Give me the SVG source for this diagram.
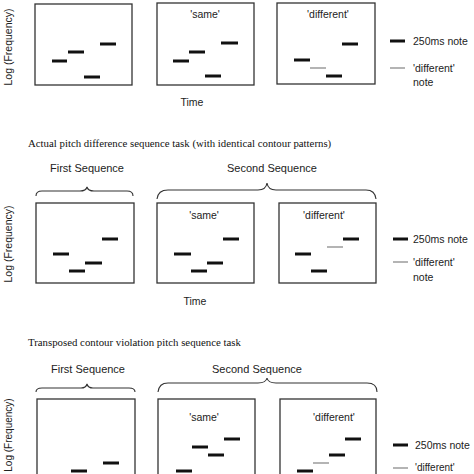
<svg xmlns="http://www.w3.org/2000/svg" width="474" height="474" viewBox="0 0 474 474">
<style>
.bg{fill:#fff}
.panel{fill:#fff;stroke:#333;stroke-width:1.3}
.n{stroke:#111;stroke-width:3}
.g{stroke:#b4b4b4;stroke-width:2}
.t{font-family:"Liberation Sans",Arial,sans-serif;font-size:10.5px;fill:#222}
.h{font-family:"Liberation Sans",Arial,sans-serif;font-size:11px;fill:#222}
.s{font-family:"Liberation Serif","Times New Roman",serif;font-size:10.8px;fill:#111}
.brace{fill:none;stroke:#333;stroke-width:1.1}
</style>
<rect class="bg" width="474" height="474"/>

<!-- Section 1 -->
<g id="sec1">
<text class="t" transform="translate(12,47) rotate(-90)" text-anchor="middle">Log (Frequency)</text>
<g id="s1p1">
<rect class="panel" x="35" y="4" width="97" height="81"/>
<line class="n" x1="52" y1="61" x2="67" y2="61"/>
<line class="n" x1="68" y1="52" x2="84" y2="52"/>
<line class="n" x1="84" y1="77" x2="100" y2="77"/>
<line class="n" x1="100" y1="44" x2="116" y2="44"/>
</g>
<g id="s1p2">
<rect class="panel" x="157" y="3" width="97" height="82"/>
<text class="t" x="205" y="18" text-anchor="middle">'same'</text>
<line class="n" x1="173" y1="61" x2="189" y2="61"/>
<line class="n" x1="189" y1="52" x2="205" y2="52"/>
<line class="n" x1="205" y1="76" x2="221" y2="76"/>
<line class="n" x1="221" y1="43" x2="238" y2="43"/>
</g>
<g id="s1p3">
<rect class="panel" x="277" y="3" width="98" height="81"/>
<text class="t" x="328" y="18" text-anchor="middle">'different'</text>
<line class="n" x1="294" y1="60" x2="310" y2="60"/>
<line class="g" x1="310" y1="68" x2="326" y2="68"/>
<line class="n" x1="326" y1="76" x2="342" y2="76"/>
<line class="n" x1="342" y1="44" x2="358" y2="44"/>
</g>
<text class="t" x="192" y="106" text-anchor="middle">Time</text>
<g id="s1legend">
<line class="n" x1="390" y1="41" x2="405" y2="41"/>
<text class="t" x="413" y="45">250ms note</text>
<line class="g" x1="390" y1="68" x2="405" y2="68"/>
<text class="t" x="413" y="72">'different'</text>
<text class="t" x="413" y="86">note</text>
</g>
</g>

<!-- Section 2 -->
<g id="sec2">
<text class="s" x="28" y="147">Actual pitch difference sequence task (with identical contour patterns)</text>
<text class="h" x="87" y="172" text-anchor="middle">First Sequence</text>
<text class="h" x="272" y="172" text-anchor="middle">Second Sequence</text>
<text class="t" transform="translate(12,244) rotate(-90)" text-anchor="middle">Log (Frequency)</text>
<g id="s2p1">
<rect class="panel" x="36" y="203" width="98" height="80"/>
<line class="n" x1="53" y1="254" x2="69" y2="254"/>
<line class="n" x1="69" y1="271" x2="85" y2="271"/>
<line class="n" x1="85" y1="263" x2="102" y2="263"/>
<line class="n" x1="102" y1="239" x2="118" y2="239"/>
</g>
<g id="s2p2">
<rect class="panel" x="157" y="203" width="97" height="80"/>
<text class="t" x="204" y="219" text-anchor="middle">'same'</text>
<line class="n" x1="174" y1="254" x2="191" y2="254"/>
<line class="n" x1="191" y1="271" x2="207" y2="271"/>
<line class="n" x1="207" y1="263" x2="223" y2="263"/>
<line class="n" x1="223" y1="239" x2="239" y2="239"/>
</g>
<g id="s2p3">
<rect class="panel" x="279" y="203" width="97" height="80"/>
<text class="t" x="324" y="219" text-anchor="middle">'different'</text>
<line class="n" x1="295" y1="254" x2="311" y2="254"/>
<line class="n" x1="311" y1="271" x2="327" y2="271"/>
<line class="g" x1="327" y1="247" x2="343" y2="247"/>
<line class="n" x1="343" y1="239" x2="359" y2="239"/>
</g>
<text class="t" x="195" y="305" text-anchor="middle">Time</text>
<g id="s2legend">
<line class="n" x1="393" y1="239" x2="408" y2="239"/>
<text class="t" x="413" y="243">250ms note</text>
<line class="g" x1="393" y1="262" x2="408" y2="262"/>
<text class="t" x="413" y="266">'different'</text>
<text class="t" x="413" y="281">note</text>
</g>
</g>

<!-- Section 3 -->
<g id="sec3">
<text class="s" x="28" y="346">Transposed contour violation pitch sequence task</text>
<text class="h" x="88" y="373" text-anchor="middle">First Sequence</text>
<text class="h" x="257" y="373" text-anchor="middle">Second Sequence</text>
<text class="t" style="font-size:10px" transform="translate(12,435) rotate(-90)" text-anchor="middle">Log (Frequency)</text>
<g id="s3p1">
<rect class="panel" x="37" y="399" width="98" height="90"/>
<line class="n" x1="71" y1="471" x2="87" y2="471"/>
<line class="n" x1="103" y1="463" x2="119" y2="463"/>
</g>
<g id="s3p2">
<rect class="panel" x="158" y="399" width="97" height="90"/>
<text class="t" x="204" y="421" text-anchor="middle">'same'</text>
<line class="n" x1="176" y1="471" x2="192" y2="471"/>
<line class="n" x1="192" y1="447" x2="208" y2="447"/>
<line class="n" x1="208" y1="455" x2="224" y2="455"/>
<line class="n" x1="224" y1="439" x2="240" y2="439"/>
</g>
<g id="s3p3">
<rect class="panel" x="280" y="399" width="96" height="90"/>
<text class="t" x="334" y="421" text-anchor="middle">'different'</text>
<line class="n" x1="297" y1="471" x2="313" y2="471"/>
<line class="g" x1="313" y1="463" x2="329" y2="463"/>
<line class="n" x1="329" y1="455" x2="345" y2="455"/>
<line class="n" x1="345" y1="439" x2="361" y2="439"/>
</g>
<g id="s3legend">
<line class="n" x1="393" y1="445" x2="408" y2="445"/>
<text class="t" x="415" y="449">250ms note</text>
<line class="g" x1="393" y1="468" x2="408" y2="468"/>
<text class="t" style="font-size:10px" x="415" y="471">'different'</text>
</g>
</g>

<g id="connectors">
<path class="brace" d="M36,196 Q36,191 42,191 L80,191 Q86,191 87,187 Q88,191 94,191 L127,191 Q133,191 133,196"/>
<path class="brace" d="M157,199 Q158,190 168,190 L258,190 Q266,190 267,183 Q268,190 276,190 L366,190 Q375,190 376,199"/>
<path class="brace" d="M36,392 Q36,388 42,388 L81,388 Q86,388 87,384 Q88,388 93,388 L129,388 Q135,388 135,392"/>
<path class="brace" d="M158,392 Q159,383 168,383 L258,383 Q266,383 267,378 Q268,383 276,383 L367,383 Q377,383 377,392"/>
</g>
</svg>
